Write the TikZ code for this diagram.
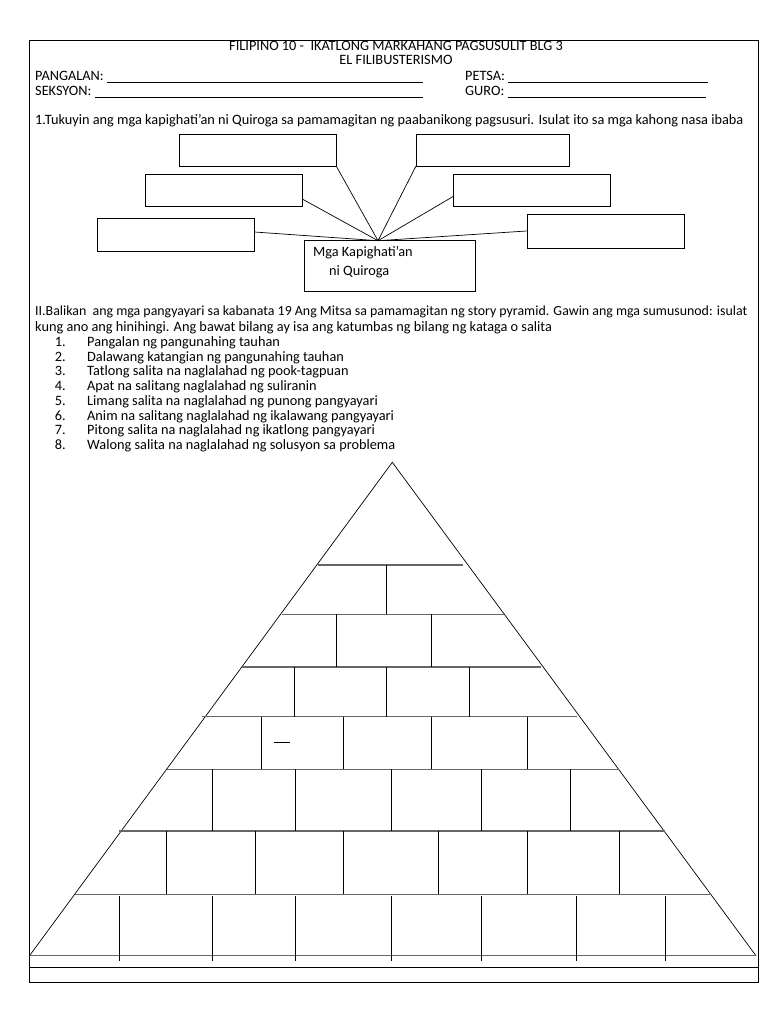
\documentclass[tikz,border=0pt]{standalone}
\usepackage{fontspec}
\setmainfont{Carlito}
\usetikzlibrary{positioning,calc}

\begin{document}
\begin{tikzpicture}[
		x=1pt, y=-1pt,
		every node/.style={
			font=\fontsize{14.3}{16}\selectfont,
			inner sep=0pt
		},
		txt/.style={anchor=base west},
		num/.style={anchor=base east},
		blank/.style={line width=0.6pt},
		kahon/.style={draw, line width=0.8pt, minimum width=157pt, minimum height=32pt},
		sanga/.style={line width=0.7pt},
		course/.style={line width=1.3pt, draw=black!60},
		joint/.style={line width=0.8pt}
		]
		
		\useasboundingbox (0,0) rectangle (768,1024);
		\draw[line width=0.9pt] (29.3,40) rectangle (758.3,982.3);
		
		% header
		\node[anchor=base] (title) at (396,50.5) {FILIPINO 10 -\ \ IKATLONG MARKAHANG PAGSUSULIT BLG 3};
		\node[anchor=base] (sub) at (396,65) {EL FILIBUSTERISMO};
		\node[txt] (pangalan) at (35,80.5) {PANGALAN:};
		\node[txt] (petsa) at (465,80.5) {PETSA:};
		\node[txt] (seksyon) at (35,95.5) {SEKSYON:};
		\node[txt] (guro) at (465,95.5) {GURO:};
		\coordinate (dulo1) at (423,0);
		\coordinate (dulo2) at (708,0);
		\draw[blank] ([xshift=3pt,yshift=-2pt]pangalan.base east) -- ([yshift=-2pt]pangalan.base east -| dulo1);
		\draw[blank] ([xshift=3pt,yshift=-2pt]petsa.base east) -- ([yshift=-2pt]petsa.base east -| dulo2);
		\draw[blank] ([xshift=3pt,yshift=-2pt]seksyon.base east) -- ([yshift=-2pt]seksyon.base east -| dulo1);
		\draw[blank] ([xshift=3pt,yshift=-2pt]guro.base east) -- ([xshift=-2pt,yshift=-2pt]guro.base east -| dulo2);
		
		% part I
		\node[txt] (tanong1) at (35,124.5) {1.Tukuyin ang mga kapighati'an ni Quiroga sa pamamagitan ng paabanikong pagsusuri. Isulat ito sa mga kahong nasa ibaba};
		
		\node[kahon] (a) at (257.5,150) {};
		\node[kahon, minimum width=153pt] (b) at (492.7,150) {};
		\node[kahon] (c) at (224.2,190.5) {};
		\node[kahon] (d) at (532,190.5) {};
		\node[kahon, minimum height=33pt] (e) at (175.5,235) {};
		\node[kahon, minimum height=34pt] (f) at (605.5,231) {};
		\node[kahon, minimum width=171pt, minimum height=51pt] (gitna) at (389.5,266.2) {};
		\node[txt] (kap1) at (313,256.5) {Mga Kapighati'an};
		\node[txt] (kap2) at (329,275) {ni Quiroga};
		\coordinate (hub) at (378,240.7);
		
		\draw[sanga] (a.south east) -- (hub);
		\draw[sanga] (b.south west) -- (hub);
		\draw[sanga] ([yshift=-9pt]c.east) -- (hub);
		\draw[sanga] ([yshift=-6pt]d.west) -- (hub);
		\draw[sanga] ([yshift=3pt]e.east) -- (hub);
		\draw[sanga] (f.west) -- (hub);
		
		% part II
		\node[txt, font=\fontsize{13.9}{16}\selectfont] (tanong2) at (35,315.5) {II.Balikan\ \ ang mga pangyayari sa kabanata 19 Ang Mitsa sa pamamagitan ng story pyramid. Gawin ang mga sumusunod: isulat};
		\node[txt] (tanong2b) at (35,331.5) {kung ano ang hinihingi. Ang bawat bilang ay isa ang katumbas ng bilang ng kataga o salita};
		\foreach \n/\t [count=\i from 0] in {
			1/Pangalan ng pangunahing tauhan,
			2/Dalawang katangian ng pangunahing tauhan,
			3/Tatlong salita na naglalahad ng pook-tagpuan,
			4/Apat na salitang naglalahad ng suliranin,
			5/Limang salita na naglalahad ng punong pangyayari,
			6/Anim na salitang naglalahad ng ikalawang pangyayari,
			7/Pitong salita na naglalahad ng ikatlong pangyayari,
			8/Walong salita na naglalahad ng solusyon sa problema}{
			\node[num] (n\n) at (66,346.5+14.7*\i) {\n.};
			\node[txt] (t\n) at (87,346.5+14.7*\i) {\t};
		}
		
		% story pyramid
		\coordinate (tuktok) at (392.3,462.3);
		\coordinate (kaliwa) at (29.5,955.7);
		\coordinate (kanan) at (756,955.7);
		\draw[line width=0.7pt] (kaliwa) -- (tuktok) -- (kanan);
		
		\foreach \y/\a/\b in {565/317.7/463.3, 614.3/281.7/504, 667/242.3/540.7,
			716.7/202.4/576.7, 769.3/167/618.8, 831/119.2/665.1, 894.3/75.3/710.9,
			955.7/29.5/756}
		\draw[course] (\a,\y) -- (\b,\y);
		
		\draw[joint] (386,565) -- (386,614.3);
		\foreach \x in {336.7,431} \draw[joint] (\x,614.3) -- (\x,667);
		\foreach \x in {294.3,386,469.3} \draw[joint] (\x,667) -- (\x,716.7);
		\foreach \x in {261,343.3,431.6,527.1} \draw[joint] (\x,716.7) -- (\x,769.3);
		\foreach \x in {211.9,295,391.5,481.7,570.1} \draw[joint] (\x,769.3) -- (\x,831);
		\foreach \x in {166,254.9,343.3,438.7,527.1,619.7} \draw[joint] (\x,831) -- (\x,894.3);
		\foreach \x in {119.2,211.9,295,391.5,481.7,576.7,665.1} \draw[joint] (\x,896) -- (\x,961);
		\draw[joint] (274,742.7) -- (290,742.7);
		
		\draw[line width=0.8pt] (29.3,967.3) -- (758.3,967.3);
		
	\end{tikzpicture}
\end{document}
